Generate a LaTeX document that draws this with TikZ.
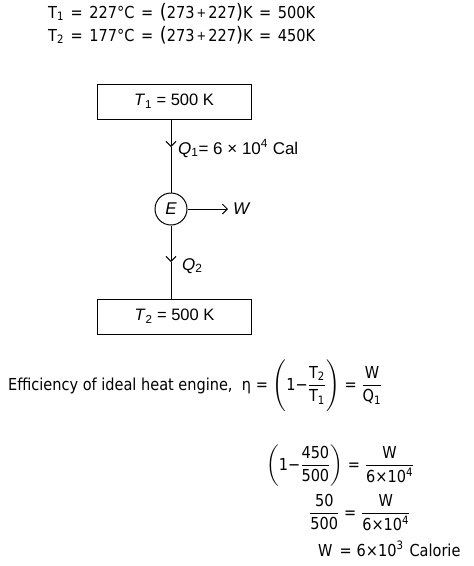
\documentclass[tikz,border=0pt]{standalone}
\usepackage{amsmath}
\usepackage{fontspec}
\setmainfont{DejaVu Sans}[FakeStretch=0.88]
\newfontfamily\arialfont{Liberation Sans}
\usetikzlibrary{arrows.meta,positioning}
\newcommand{\Eq}{\mathrel{\text{=}}}
\newcommand{\TEq}{\hspace{2pt} = \hspace{2pt}}
\newcommand{\Mi}{\text{−}}
\newcommand{\SmPl}{\raisebox{0.5pt}{\fontsize{13}{13}\selectfont\,+\,}}
\newcommand{\BigOpen}{{\fontsize{20}{20}\selectfont(}}
\newcommand{\BigClose}{{\fontsize{20}{20}\selectfont)}}

\begin{document}
\begin{tikzpicture}[x=1pt,y=-1pt]
			\tikzstyle{Eqn}		= [anchor=base west, inner sep=0pt, font=\fontsize{16.5}{18}\selectfont]
			\tikzstyle{Reservoir}	= [draw, line width=1pt, minimum width=154pt, minimum height=35pt, inner sep=0pt, font=\arialfont\fontsize{16.5}{18}\selectfont]
			\tikzstyle{Engine}	= [circle, draw, line width=1pt, minimum size=32pt, inner sep=0pt, font=\arialfont\fontsize{17}{18}\selectfont]
			\tikzstyle{Lbl}		= [anchor=base west, inner sep=0pt, font=\arialfont\fontsize{17}{18}\selectfont]
			\tikzstyle{Flow}	= [line width=1pt]
			\tikzstyle{Tip}		= [-{Straight Barb[length=5pt,width=10pt,line width=1pt]}]

			\useasboundingbox (0,0) rectangle (474,566);

			\node (t1) at (48,18) [Eqn] {T\textsubscript{1}\TEq 227°C\TEq\BigOpen273\SmPl227\BigClose K\TEq 500K};
			\node (t2) at (48,41) [Eqn] {T\textsubscript{2}\TEq 177°C\TEq\BigOpen273\SmPl227\BigClose K\TEq 450K};

			\node (hot) at (174,101.5) [Reservoir] {\textit{T}\textsubscript{1} = 500 K};
			\node (e) at (171,209) [Engine] {\textit{E}};
			\node (cold) at (174.5,316.5) [Reservoir] {\textit{T}\textsubscript{2} = 500 K};
			\node (w) at (233,209) [anchor=west, inner sep=0pt, font=\arialfont\fontsize{17}{18}\selectfont] {\textit{W}};

			\coordinate (q1) at (171,147);
			\coordinate (q2) at (171,262);
			\node (lq1) at (178,154) [Lbl] {\textit{Q}\textsubscript{1}= 6 × 10\textsuperscript{4} Cal};
			\node (lq2) at (182,270) [Lbl] {\textit{Q}\textsubscript{2}};

			\draw [Flow, Tip] (hot.south -| e) to (q1);
			\draw [Flow] (q1) to (e);
			\draw [Flow, Tip] (e) to (q2);
			\draw [Flow] (q2) to (cold.north -| e);
			\draw [Flow, Tip] (e) to (228,209);

			\node (eff) at (8,390) [Eqn] {Efficiency of ideal heat engine,\ \ $\text{η}\Eq\Biggl(\text{1}\Mi\dfrac{\text{T\textsubscript{2}}}{\text{T\textsubscript{1}}}\Biggr)\Eq\dfrac{\text{W}}{\text{Q\textsubscript{1}}}$};
			\node (s1) at (266,470) [Eqn] {$\biggl(\text{1}\Mi\dfrac{\text{450}}{\text{500}}\biggr)\Eq\dfrac{\text{W}}{\text{6×10\textsuperscript{4}}}$};
			\node (s2) at (309,518) [Eqn] {$\dfrac{\text{50}}{\text{500}}\Eq\dfrac{\text{W}}{\text{6×10\textsuperscript{4}}}$};
			\node (s3) at (318,556) [Eqn] {W\hspace{7pt}=\hspace{5pt}6×10\textsuperscript{3}\hspace{6pt}Calorie};
		\end{tikzpicture}
\end{document}
